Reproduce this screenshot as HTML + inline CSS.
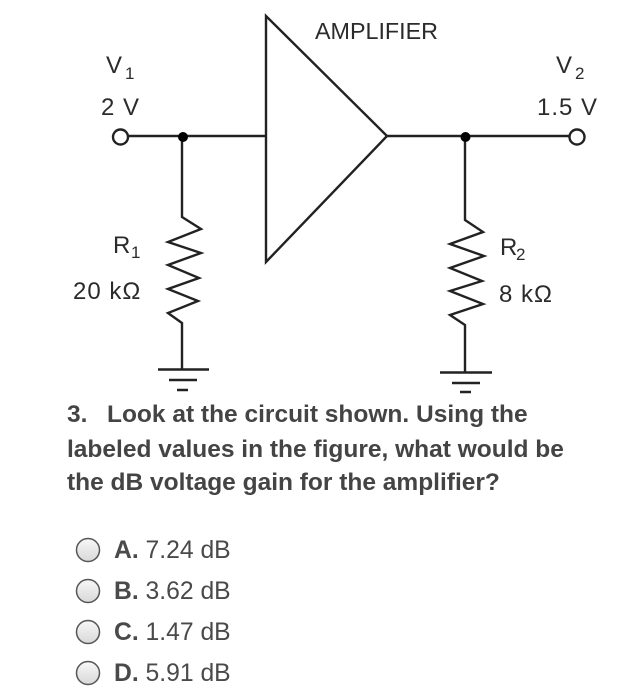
<!DOCTYPE html>
<html><head><meta charset="utf-8">
<style>
html,body{margin:0;padding:0;background:#fff;width:636px;height:700px;overflow:hidden}
svg{display:block}
.d{font-family:"Liberation Sans",sans-serif;font-size:24px;letter-spacing:1px;fill:#2b2b2b}
.a{font-size:23.300px;letter-spacing:0}
.s{font-size:17px;letter-spacing:0}
.q{font-family:"Liberation Sans",sans-serif;font-size:24.500px;font-weight:bold;fill:#444}
.o{font-family:"Liberation Sans",sans-serif;font-size:24.700px;fill:#4a4a4a}
.o tspan{font-weight:bold}
</style></head><body>
<svg width="636" height="700" viewBox="0 0 636 700" xmlns="http://www.w3.org/2000/svg">
<defs><linearGradient id="g" x1="0" y1="0" x2="0" y2="1"><stop offset="0" stop-color="#f8f8f8"/><stop offset="1" stop-color="#d8d8d8"/></linearGradient></defs>
<g fill="none" stroke="#222" stroke-width="2.400">
<path d="M266 16V262L387 136Z"/>
<path d="M128 136H266M387 136H570"/>
<circle cx="120.500" cy="137" r="7.500"/>
<circle cx="577" cy="137" r="7.500"/>
<path d="M182 136V217L201 229L168 242L201 253L168 265L199 278L168 289L198 301L168 313L182 323V369"/>
<path d="M465 136V220L483 232L450 244L484 256L450 268L482 281L450 291L483 304L450 315L465 325V372"/>
<path d="M158 369.500H209M169 380H197M177 390H188M440 372.500H492M452 383H480M460 392H471"/>
</g>
<circle cx="183" cy="137" r="5" fill="#000"/>
<circle cx="465.500" cy="137" r="5" fill="#000"/>
<text class="d a" x="315" y="39">AMPLIFIER</text>
<text class="d" x="106" y="73">V</text><text class="d s" x="125" y="79">1</text>
<text class="d" x="101" y="115">2 V</text>
<text class="d" x="556" y="73">V</text><text class="d s" x="575" y="79">2</text>
<text class="d" x="537" y="115">1.5 V</text>
<text class="d" x="113" y="253">R</text><text class="d s" x="131" y="258">1</text>
<text class="d" x="73" y="299">20 kΩ</text>
<text class="d" x="500" y="255">R</text><text class="d s" x="516" y="260">2</text>
<text class="d" x="499" y="302">8 kΩ</text>
<text class="q" x="67" y="422">3.</text>
<text class="q" x="107" y="422">Look at the circuit shown. Using the</text>
<text class="q" x="67" y="457">labeled values in the figure, what would be</text>
<text class="q" x="67" y="490">the dB voltage gain for the amplifier?</text>
<g fill="url(#g)" stroke="#555" stroke-width="1.500">
<circle cx="88" cy="550" r="11.500"/>
<circle cx="88" cy="591" r="11.500"/>
<circle cx="88" cy="632" r="11.500"/>
<circle cx="88" cy="673" r="11.500"/>
</g>
<text class="o" x="114" y="558"><tspan>A.</tspan> 7.24 dB</text>
<text class="o" x="114" y="599"><tspan>B.</tspan> 3.62 dB</text>
<text class="o" x="114" y="640"><tspan>C.</tspan> 1.47 dB</text>
<text class="o" x="114" y="681"><tspan>D.</tspan> 5.91 dB</text>
</svg>
</body></html>
